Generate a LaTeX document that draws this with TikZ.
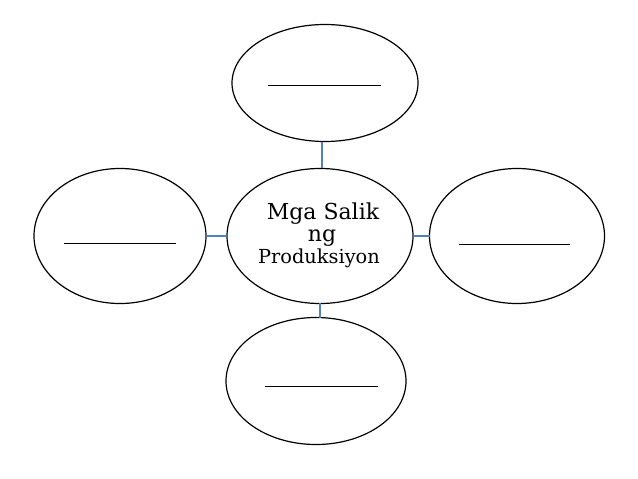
\documentclass[tikz,border=0pt]{standalone}
\usepackage{fontspec}
\setmainfont{DejaVu Serif}
\usetikzlibrary{shapes.geometric}
\definecolor{conn}{RGB}{79,129,189}
\begin{document}
\begin{tikzpicture}[x=0.75pt,y=-0.75pt,
  bub/.style={draw=black,line width=0.9pt,ellipse,inner sep=0pt},
  link/.style={draw=conn,line width=1pt},
  blank/.style={draw=black,line width=0.7pt}]
\useasboundingbox (0,0) rectangle (638,478);
\node[bub,minimum width=186*0.75pt,minimum height=117*0.75pt] (top) at (325,83) {};
\node[bub,minimum width=186*0.75pt,minimum height=135*0.75pt] (mid) at (320,236) {};
\node[bub,minimum width=172*0.75pt,minimum height=135*0.75pt] (left) at (120,236) {};
\node[bub,minimum width=175*0.75pt,minimum height=135*0.75pt] (right) at (517,236) {};
\node[bub,minimum width=180*0.75pt,minimum height=127*0.75pt] (bot) at (316,381) {};
\node[font=\fontsize{16.5}{19}\selectfont] (t1) at (323,214) {Mga Salik};
\node[font=\fontsize{16.5}{19}\selectfont] (t2) at (322,238) {ng};
\node[font=\fontsize{14.5}{17}\selectfont] (t3) at (319,258) {Produksiyon};
\coordinate (a1) at (322,142); \coordinate (a2) at (322,168);
\coordinate (b1) at (206,236); \coordinate (b2) at (227,236);
\coordinate (c1) at (413,236); \coordinate (c2) at (430,236);
\coordinate (d1) at (320,303); \coordinate (d2) at (320,318);
\draw[link] (a1) -- (a2); \draw[link] (b1) -- (b2);
\draw[link] (c1) -- (c2); \draw[link] (d1) -- (d2);
\coordinate (u1) at (268,85); \coordinate (u2) at (381,85);
\coordinate (v1) at (64,243); \coordinate (v2) at (176,243);
\coordinate (w1) at (459,244); \coordinate (w2) at (570,244);
\coordinate (z1) at (265,386); \coordinate (z2) at (378,386);
\draw[blank] (u1) -- (u2); \draw[blank] (v1) -- (v2);
\draw[blank] (w1) -- (w2); \draw[blank] (z1) -- (z2);
\end{tikzpicture}
\end{document}
